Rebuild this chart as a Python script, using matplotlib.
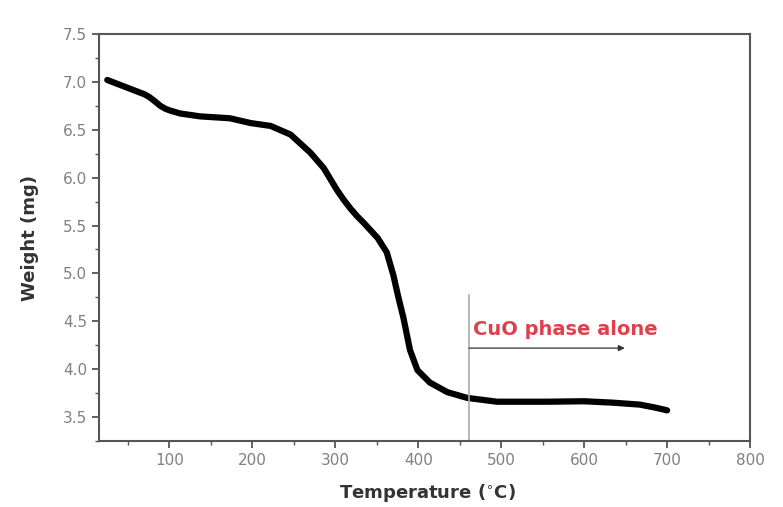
import matplotlib.pyplot as plt
from matplotlib.ticker import MultipleLocator

# TGA curve
temperature = [25, 40, 58, 70, 76, 82, 89, 95, 101, 113, 137, 173, 198, 222,
               246, 270, 286, 302, 310, 318, 326, 334, 351, 362, 370, 376,
               382, 390, 399, 414, 435, 459, 495, 555, 600, 635, 667, 685,
               700]
weight = [7.02, 6.97, 6.91, 6.87, 6.84, 6.80, 6.75, 6.72, 6.70, 6.67, 6.64,
          6.62, 6.57, 6.54, 6.45, 6.26, 6.10, 5.87, 5.77, 5.68, 5.60, 5.53,
          5.37, 5.22, 4.98, 4.75, 4.54, 4.20, 3.99, 3.86, 3.76, 3.70, 3.66,
          3.66, 3.665, 3.65, 3.63, 3.60, 3.57]

phase_start = 461
arrow_end = 649
annotation = "CuO phase alone"

fig = plt.figure(figsize=(7.83, 5.07), dpi=100)
ax = fig.add_axes([0.1264, 0.1302, 0.8315, 0.8027])

ax.plot(temperature, weight, color="black", linewidth=4.5,
        solid_capstyle="round", solid_joinstyle="round")

ax.axvline(phase_start, ymax=(4.77 - 3.25) / (7.5 - 3.25),
           color="#aaaaaa", linewidth=1.2)
ax.annotate("", xy=(arrow_end, 4.22), xytext=(phase_start, 4.22),
            arrowprops=dict(arrowstyle="-|>", color="#333333", lw=0.9,
                            mutation_scale=9, shrinkA=0, shrinkB=0))
ax.text(phase_start + 5, 4.31, annotation, color="#e0404e",
        fontsize=14, fontweight="bold", ha="left", va="bottom")

ax.set_xlim(15, 800)
ax.set_ylim(3.25, 7.5)
ax.xaxis.set_minor_locator(MultipleLocator(50))
ax.yaxis.set_minor_locator(MultipleLocator(0.25))
ax.set_xticks([100, 200, 300, 400, 500, 600, 700, 800])
ax.set_yticks([3.5, 4.0, 4.5, 5.0, 5.5, 6.0, 6.5, 7.0, 7.5])
ax.yaxis.set_major_formatter(plt.FormatStrFormatter("%.1f"))

ax.tick_params(which="major", direction="out", length=5, width=1.3,
               color="#555555", labelcolor="#808080", labelsize=11)
ax.tick_params(which="minor", direction="out", length=3, width=1.0,
               color="#555555")
for side in ax.spines.values():
    side.set_color("#555555")
    side.set_linewidth(1.5)

ax.set_xlabel("Temperature ($^{\\circ}$C)", fontsize=13, fontweight="bold",
              color="#333333", va="center")
ax.set_ylabel("Weight (mg)", fontsize=13, fontweight="bold",
              color="#333333", va="center")
ax.xaxis.set_label_coords(0.505, -0.128)
ax.yaxis.set_label_coords(-0.106, 0.5)

fig.savefig("out.png", dpi=100)
